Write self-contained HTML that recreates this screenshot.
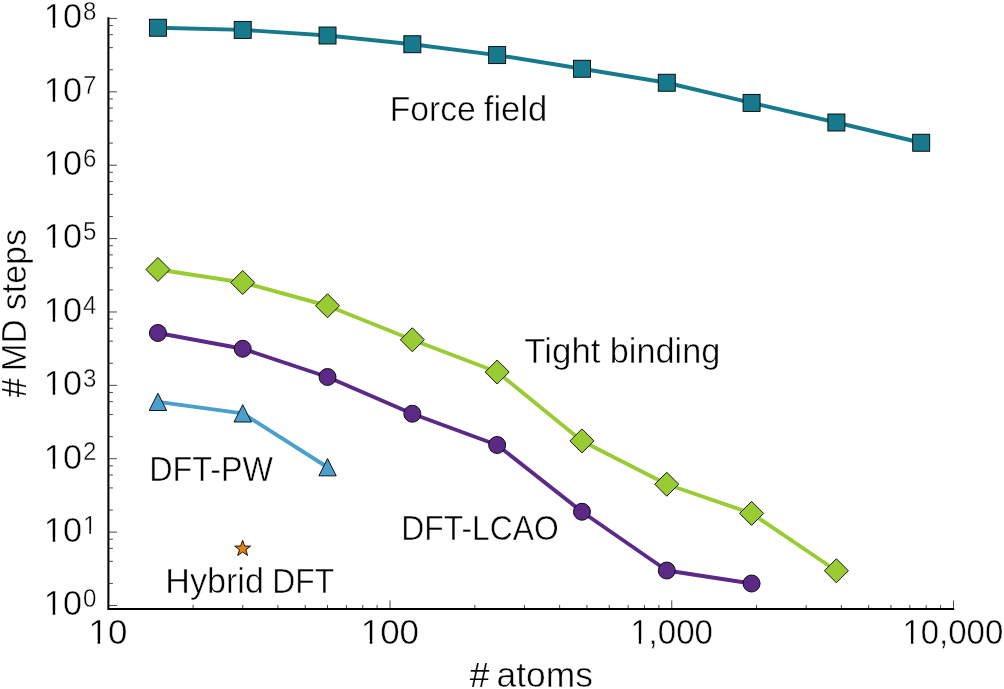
<!DOCTYPE html>
<html lang="en"><head><meta charset="utf-8"><title># MD steps vs # atoms</title>
<style>html,body{margin:0;padding:0;background:#fff}body{width:1004px;height:689px;overflow:hidden}svg{display:block}</style></head>
<body>
<svg width="1004" height="689" viewBox="0 0 1004 689">
<rect width="1004" height="689" fill="#fff"/>
<path d="M108.3 605.49H117 M108.3 583.40H112.9 M108.3 561.31H112.9 M108.3 548.39H112.9 M108.3 539.22H112.9 M108.3 532.11H117 M108.3 510.02H112.9 M108.3 487.93H112.9 M108.3 475.01H112.9 M108.3 465.84H112.9 M108.3 458.73H117 M108.3 436.64H112.9 M108.3 414.55H112.9 M108.3 401.63H112.9 M108.3 392.46H112.9 M108.3 385.35H117 M108.3 363.26H112.9 M108.3 341.17H112.9 M108.3 328.25H112.9 M108.3 319.08H112.9 M108.3 311.97H117 M108.3 289.88H112.9 M108.3 267.79H112.9 M108.3 254.87H112.9 M108.3 245.70H112.9 M108.3 238.59H117 M108.3 216.50H112.9 M108.3 194.41H112.9 M108.3 181.49H112.9 M108.3 172.32H112.9 M108.3 165.21H117 M108.3 143.12H112.9 M108.3 121.03H112.9 M108.3 108.11H112.9 M108.3 98.94H112.9 M108.3 91.83H117 M108.3 69.74H112.9 M108.3 47.65H112.9 M108.3 34.73H112.9 M108.3 25.56H112.9 M108.3 18.45H117 M108.30 609V600.5 M193.11 609V604.9 M242.72 609V604.9 M277.92 609V604.9 M305.22 609V604.9 M327.53 609V604.9 M346.39 609V604.9 M362.73 609V604.9 M377.14 609V604.9 M390.03 609V600.5 M474.84 609V604.9 M524.45 609V604.9 M559.65 609V604.9 M586.95 609V604.9 M609.26 609V604.9 M628.12 609V604.9 M644.46 609V604.9 M658.87 609V604.9 M671.76 609V600.5 M756.57 609V604.9 M806.18 609V604.9 M841.38 609V604.9 M868.68 609V604.9 M890.99 609V604.9 M909.85 609V604.9 M926.19 609V604.9 M940.60 609V604.9 M953.49 609V600.5" stroke="#1a1a1a" stroke-width="0.8" fill="none"/>
<path d="M108.4 17.3V608.95H954.2" stroke="#000" stroke-width="2.05" fill="none" stroke-linejoin="miter"/>
<polyline points="157.91,27.75 242.72,29.90 327.53,35.50 412.34,44.25 497.15,55.10 581.96,68.75 666.77,82.75 751.57,102.90 836.38,122.50 921.19,142.75" fill="none" stroke="#177a8c" stroke-width="3.9" stroke-linejoin="round"/>
<rect x="149.41" y="19.25" width="17" height="17" fill="#177a8c" stroke="#000" stroke-width="0.9"/>
<rect x="234.22" y="21.40" width="17" height="17" fill="#177a8c" stroke="#000" stroke-width="0.9"/>
<rect x="319.03" y="27.00" width="17" height="17" fill="#177a8c" stroke="#000" stroke-width="0.9"/>
<rect x="403.84" y="35.75" width="17" height="17" fill="#177a8c" stroke="#000" stroke-width="0.9"/>
<rect x="488.65" y="46.60" width="17" height="17" fill="#177a8c" stroke="#000" stroke-width="0.9"/>
<rect x="573.46" y="60.25" width="17" height="17" fill="#177a8c" stroke="#000" stroke-width="0.9"/>
<rect x="658.27" y="74.25" width="17" height="17" fill="#177a8c" stroke="#000" stroke-width="0.9"/>
<rect x="743.07" y="94.40" width="17" height="17" fill="#177a8c" stroke="#000" stroke-width="0.9"/>
<rect x="827.88" y="114.00" width="17" height="17" fill="#177a8c" stroke="#000" stroke-width="0.9"/>
<rect x="912.69" y="134.25" width="17" height="17" fill="#177a8c" stroke="#000" stroke-width="0.9"/>
<polyline points="157.91,269.50 242.72,282.50 327.53,305.75 412.34,339.75 497.15,372.00 581.96,440.90 666.77,484.25 751.57,513.40 836.38,570.75" fill="none" stroke="#99cc33" stroke-width="3.9" stroke-linejoin="round"/>
<path d="M157.91 257.50L169.91 269.50L157.91 281.50L145.91 269.50Z" fill="#99cc33" stroke="#000" stroke-width="0.9"/>
<path d="M242.72 270.50L254.72 282.50L242.72 294.50L230.72 282.50Z" fill="#99cc33" stroke="#000" stroke-width="0.9"/>
<path d="M327.53 293.75L339.53 305.75L327.53 317.75L315.53 305.75Z" fill="#99cc33" stroke="#000" stroke-width="0.9"/>
<path d="M412.34 327.75L424.34 339.75L412.34 351.75L400.34 339.75Z" fill="#99cc33" stroke="#000" stroke-width="0.9"/>
<path d="M497.15 360.00L509.15 372.00L497.15 384.00L485.15 372.00Z" fill="#99cc33" stroke="#000" stroke-width="0.9"/>
<path d="M581.96 428.90L593.96 440.90L581.96 452.90L569.96 440.90Z" fill="#99cc33" stroke="#000" stroke-width="0.9"/>
<path d="M666.77 472.25L678.77 484.25L666.77 496.25L654.77 484.25Z" fill="#99cc33" stroke="#000" stroke-width="0.9"/>
<path d="M751.57 501.40L763.57 513.40L751.57 525.40L739.57 513.40Z" fill="#99cc33" stroke="#000" stroke-width="0.9"/>
<path d="M836.38 558.75L848.38 570.75L836.38 582.75L824.38 570.75Z" fill="#99cc33" stroke="#000" stroke-width="0.9"/>
<polyline points="157.91,333.00 242.72,348.75 327.53,377.00 412.34,413.75 497.15,445.00 581.96,511.75 666.77,570.50 751.57,583.50" fill="none" stroke="#5b2a86" stroke-width="3.9" stroke-linejoin="round"/>
<circle cx="157.91" cy="333.00" r="8.5" fill="#5b2a86" stroke="#000" stroke-width="0.9"/>
<circle cx="242.72" cy="348.75" r="8.5" fill="#5b2a86" stroke="#000" stroke-width="0.9"/>
<circle cx="327.53" cy="377.00" r="8.5" fill="#5b2a86" stroke="#000" stroke-width="0.9"/>
<circle cx="412.34" cy="413.75" r="8.5" fill="#5b2a86" stroke="#000" stroke-width="0.9"/>
<circle cx="497.15" cy="445.00" r="8.5" fill="#5b2a86" stroke="#000" stroke-width="0.9"/>
<circle cx="581.96" cy="511.75" r="8.5" fill="#5b2a86" stroke="#000" stroke-width="0.9"/>
<circle cx="666.77" cy="570.50" r="8.5" fill="#5b2a86" stroke="#000" stroke-width="0.9"/>
<circle cx="751.57" cy="583.50" r="8.5" fill="#5b2a86" stroke="#000" stroke-width="0.9"/>
<polyline points="157.91,401.90 242.72,413.40 327.53,467.25" fill="none" stroke="#4a9fcc" stroke-width="3.9" stroke-linejoin="round"/>
<path d="M157.91 393.20L166.61 410.50L149.21 410.50Z" fill="#4a9fcc" stroke="#000" stroke-width="0.9"/>
<path d="M242.72 404.70L251.42 422.00L234.02 422.00Z" fill="#4a9fcc" stroke="#000" stroke-width="0.9"/>
<path d="M327.53 458.55L336.23 475.85L318.83 475.85Z" fill="#4a9fcc" stroke="#000" stroke-width="0.9"/>
<polygon points="242.65,540.30 244.62,545.98 250.64,546.10 245.85,549.74 247.59,555.50 242.65,552.06 237.71,555.50 239.45,549.74 234.66,546.10 240.68,545.98" fill="#e8820c" stroke="#000" stroke-width="0.9"/>
<g font-family="'Liberation Sans', sans-serif" font-size="35.2" fill="#000" stroke="#fff" stroke-width="0.5">
<text y="120.90"><tspan x="389.63" textLength="86.20" lengthAdjust="spacingAndGlyphs">Force</tspan> <tspan x="483.76" textLength="63.61" lengthAdjust="spacingAndGlyphs">field</tspan></text>
<text y="363.20"><tspan x="524.26" textLength="76.26" lengthAdjust="spacingAndGlyphs">Tight</tspan> <tspan x="609.82" textLength="110.50" lengthAdjust="spacingAndGlyphs">binding</tspan></text>
<text x="149.27" y="480.95" textLength="123.79" lengthAdjust="spacingAndGlyphs">DFT-PW</text>
<text x="401.30" y="539.60" textLength="157.45" lengthAdjust="spacingAndGlyphs">DFT-LCAO</text>
<text y="592.90"><tspan x="165.35" textLength="98.51" lengthAdjust="spacingAndGlyphs">Hybrid</tspan> <tspan x="272.30" textLength="61.75" lengthAdjust="spacingAndGlyphs">DFT</tspan></text>
<text y="686.50"><tspan x="469.75" textLength="19.63" lengthAdjust="spacingAndGlyphs" stroke-width="0.15">#</tspan> <tspan x="496.49" textLength="96.35" lengthAdjust="spacingAndGlyphs">atoms</tspan></text>
<text x="88.52" y="643.90" textLength="38.80" lengthAdjust="spacingAndGlyphs">10</text>
<text x="360.78" y="643.90" textLength="58.18" lengthAdjust="spacingAndGlyphs">100</text>
<text x="630.17" y="643.90" textLength="82.79" lengthAdjust="spacingAndGlyphs">1,000</text>
<text x="902.43" y="643.90" textLength="100.89" lengthAdjust="spacingAndGlyphs">10,000</text>
<text transform="translate(26.2 396.95) rotate(-90)" y="0.00"><tspan x="-0.24" textLength="19.01" lengthAdjust="spacingAndGlyphs" stroke-width="0.15">#</tspan> <tspan x="25.66" textLength="52.03" lengthAdjust="spacingAndGlyphs">MD</tspan> <tspan x="86.80" textLength="81.11" lengthAdjust="spacingAndGlyphs">steps</tspan></text>
<text x="43.83" y="615.39" textLength="38.18" lengthAdjust="spacingAndGlyphs">10</text>
<text x="43.83" y="542.01" textLength="38.18" lengthAdjust="spacingAndGlyphs">10</text>
<text x="43.83" y="468.63" textLength="38.18" lengthAdjust="spacingAndGlyphs">10</text>
<text x="43.83" y="395.25" textLength="38.18" lengthAdjust="spacingAndGlyphs">10</text>
<text x="43.83" y="321.87" textLength="38.18" lengthAdjust="spacingAndGlyphs">10</text>
<text x="43.83" y="248.49" textLength="38.18" lengthAdjust="spacingAndGlyphs">10</text>
<text x="43.83" y="175.11" textLength="38.18" lengthAdjust="spacingAndGlyphs">10</text>
<text x="43.83" y="101.73" textLength="38.18" lengthAdjust="spacingAndGlyphs">10</text>
<text x="43.83" y="28.35" textLength="38.18" lengthAdjust="spacingAndGlyphs">10</text>
</g>
<g font-family="'Liberation Sans', sans-serif" font-size="25.4" fill="#000" stroke="#fff" stroke-width="0.4">
<text x="82.9" y="607.19" textLength="13.4" lengthAdjust="spacingAndGlyphs">0</text>
<text x="82.9" y="533.81" textLength="13.4" lengthAdjust="spacingAndGlyphs">1</text>
<text x="82.9" y="460.43" textLength="13.4" lengthAdjust="spacingAndGlyphs">2</text>
<text x="82.9" y="387.05" textLength="13.4" lengthAdjust="spacingAndGlyphs">3</text>
<text x="82.9" y="313.67" textLength="13.4" lengthAdjust="spacingAndGlyphs">4</text>
<text x="82.9" y="240.29" textLength="13.4" lengthAdjust="spacingAndGlyphs">5</text>
<text x="82.9" y="166.91" textLength="13.4" lengthAdjust="spacingAndGlyphs">6</text>
<text x="82.9" y="93.53" textLength="13.4" lengthAdjust="spacingAndGlyphs">7</text>
<text x="82.9" y="20.15" textLength="13.4" lengthAdjust="spacingAndGlyphs">8</text>
</g>
<path d="M89.58 639.67H97.55V645.50H89.58ZM100.13 639.67H107.83V645.50H100.13ZM361.83 639.67H369.80V645.50H361.83ZM372.38 639.67H380.07V645.50H372.38ZM631.09 639.67H638.74V645.50H631.09ZM641.17 639.67H648.56V645.50H641.17ZM903.35 639.67H910.98V645.50H903.35ZM913.40 639.67H920.77V645.50H913.40ZM44.84 611.16H52.71V616.99H44.84ZM55.24 611.16H62.84V616.99H55.24ZM44.84 537.78H52.71V543.61H44.84ZM55.24 537.78H62.84V543.61H55.24ZM44.84 464.40H52.71V470.23H44.84ZM55.24 464.40H62.84V470.23H55.24ZM44.84 391.02H52.71V396.85H44.84ZM55.24 391.02H62.84V396.85H55.24ZM44.84 317.64H52.71V323.47H44.84ZM55.24 317.64H62.84V323.47H55.24ZM44.84 244.26H52.71V250.09H44.84ZM55.24 244.26H62.84V250.09H55.24ZM44.84 170.88H52.71V176.71H44.84ZM55.24 170.88H62.84V176.71H55.24ZM44.84 97.50H52.71V103.33H44.84ZM55.24 97.50H62.84V103.33H55.24ZM44.84 24.12H52.71V29.95H44.84ZM55.24 24.12H62.84V29.95H55.24ZM83.14 530.31H89.16V535.41H83.14ZM90.89 530.31H96.72V535.41H90.89Z" fill="#fff"/>
</svg>
</body></html>
